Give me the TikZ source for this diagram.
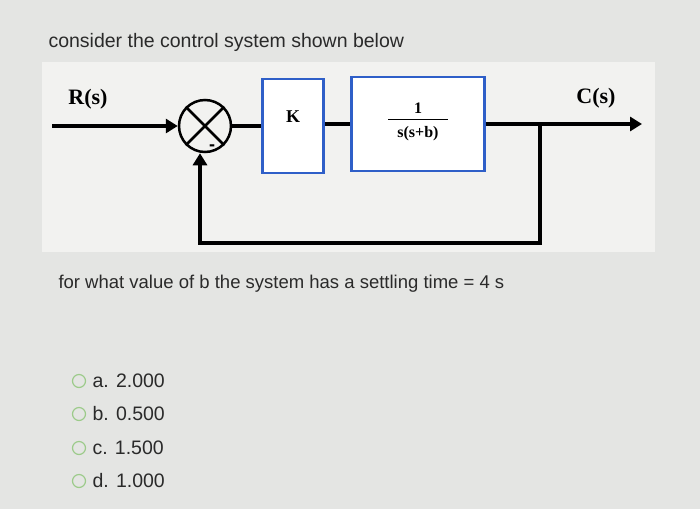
\documentclass[tikz,border=0pt]{standalone}
\usepackage{fontspec}
\setmainfont{Liberation Sans}
\newfontfamily\serifB{Liberation Serif}
\usetikzlibrary{arrows.meta}
\definecolor{bg}{HTML}{E4E5E3}
\definecolor{panel}{HTML}{F2F2F0}
\definecolor{boxblue}{HTML}{2F5FC8}
\definecolor{txt}{HTML}{2A2A2A}
\definecolor{radio}{HTML}{9CCB8A}
\tikzset{
  sig/.style={line width=3.5pt, black},
  blk/.style={draw=boxblue, line width=2.5pt, fill=white},
  arr/.style={-{Triangle[length=12pt,width=14pt]}},
  opt/.style={anchor=west, font=\fontsize{19.5}{21}\selectfont, text=txt},
  rad/.style={circle, draw=radio, line width=1.2pt, minimum size=13pt, inner sep=0pt}
}
\begin{document}
\begin{tikzpicture}[x=1pt,y=-1pt]
\fill[bg] (0,0) rectangle (700,509);
\useasboundingbox (0,0) rectangle (700,509);
\fill[panel] (42,62) rectangle (655,252);
\node[anchor=west, font=\fontsize{19.5}{22}\selectfont, text=txt] (title) at (45,42) {consider the control system shown below};
\node[font=\serifB\bfseries\fontsize{22}{24}\selectfont] (R) at (88,99) {R(s)};
\node[font=\serifB\bfseries\fontsize{22}{24}\selectfont] (C) at (596,98) {C(s)};
\coordinate (in) at (52,126);
\node[circle, draw, line width=2.5pt, minimum size=52pt, inner sep=0pt] (sum) at (205,126) {};
\draw[line width=2.5pt] (sum.north west) -- (sum.south east) (sum.north east) -- (sum.south west);
\node[blk, minimum width=61pt, minimum height=94pt] (K) at (293,126) {};
\node[font=\serifB\bfseries\fontsize{18}{20}\selectfont] (Kt) at (293,117) {K};
\node[blk, minimum width=133pt, minimum height=94pt] (G) at (418,124) {};
\node[font=\serifB\bfseries\fontsize{16}{18}\selectfont] (n1) at (418,108) {1};
\draw[line width=0.8pt] (388,119) -- (448,119);
\node[font=\serifB\bfseries\fontsize{16}{18}\selectfont] (den) at (418,134) {s(s+b)};
\coordinate (out) at (642,124);
\coordinate (br) at (540,124);
\coordinate (fb1) at (540,243);
\coordinate (fb2) at (200,243);
\draw[sig, arr] (in) -- (sum.west);
\draw[sig] (sum.east) -- (K.west |- sum.east);
\draw[sig] (K.east |- G.west) -- (G.west);
\draw[sig, arr] (G.east) -- (out);
\draw[sig, arr] (br) -- (fb1) -- (fb2) -- (sum.south -| fb2);
\node[font=\bfseries\fontsize{18}{18}\selectfont] (plus) at (168,128) {+};
\node[font=\bfseries\fontsize{18}{18}\selectfont] (minus) at (212,148) {-};
\node[anchor=west, font=\fontsize{18.5}{20}\selectfont, text=txt] (q) at (55,284) {for what value of b the system has a settling time = 4 s};
\foreach \y/\t [count=\i] in {381/a. 2.000, 414/b. 0.500, 448/c. 1.500, 481/d. 1.000}{
  \node[rad] (r\i) at (79,\y) {};
  \node[opt] (o\i) at (89,\y) {\t};
}
\end{tikzpicture}
\end{document}
